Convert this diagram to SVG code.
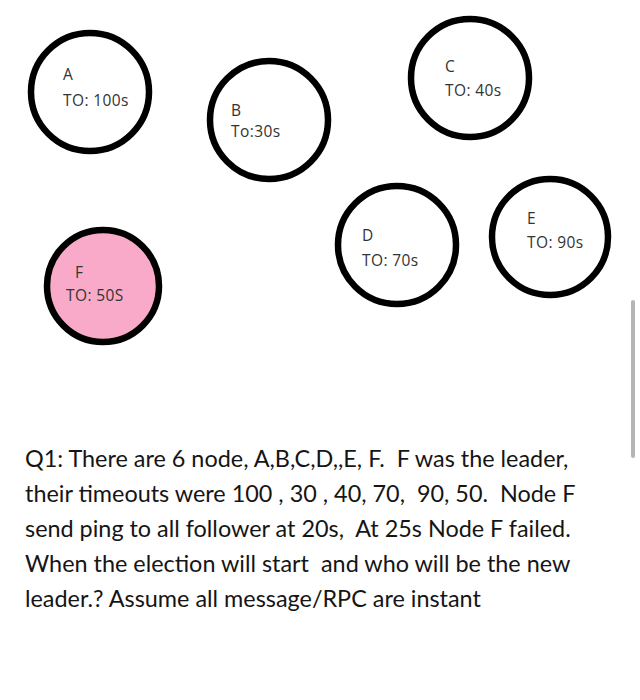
<svg xmlns="http://www.w3.org/2000/svg" width="640" height="700" viewBox="0 0 640 700">
<style>
.node{fill:#fff;stroke:#000;stroke-width:6.5}
.leader{fill:#f9aac8}
.lbl{font-family:"Open Sans","Liberation Sans",sans-serif;font-size:15.5px;letter-spacing:0.4px;fill:#333}
.q{font-family:Lato,"Liberation Sans",sans-serif;font-size:23.4px;fill:#151515;white-space:pre}
</style>
<rect width="640" height="700" fill="#fff"/>
<g id="connectors"></g>
<g id="node-A">
<circle class="node" cx="90" cy="92" r="59"/>
<text class="lbl" x="63" y="80">A</text>
<text class="lbl" x="63" y="106">TO: 100s</text>
</g>
<g id="node-B">
<circle class="node" cx="269" cy="120" r="59"/>
<text class="lbl" x="231" y="116">B</text>
<text class="lbl" x="231" y="137">To:30s</text>
</g>
<g id="node-C">
<circle class="node" cx="470" cy="78" r="59"/>
<text class="lbl" x="445" y="72">C</text>
<text class="lbl" x="445" y="96">TO: 40s</text>
</g>
<g id="node-D">
<circle class="node" cx="397" cy="245" r="59"/>
<text class="lbl" x="362" y="241">D</text>
<text class="lbl" x="362" y="266">TO: 70s</text>
</g>
<g id="node-E">
<circle class="node" cx="550" cy="237" r="58"/>
<text class="lbl" x="527" y="224">E</text>
<text class="lbl" x="527" y="248">TO: 90s</text>
</g>
<g id="node-F">
<circle class="node leader" cx="103" cy="286" r="56"/>
<text class="lbl" x="75" y="278">F</text>
<text class="lbl" x="66" y="301">TO: 50S</text>
</g>
<g id="question" xml:space="preserve">
<text class="q" x="25" y="467">Q1: There are 6 node, A,B,C,D,,E, F.  F was the leader,</text>
<text class="q" x="25" y="502">their timeouts were 100 , 30 , 40, 70,  90, 50.  Node F</text>
<text class="q" x="25" y="537">send ping to all follower at 20s,  At 25s Node F failed.</text>
<text class="q" x="25" y="572">When the election will start  and who will be the new</text>
<text class="q" x="25" y="607">leader.? Assume all message/RPC are instant</text>
</g>
<rect x="631" y="300" width="4" height="158" rx="2" fill="#b5b5b5"/>
</svg>
